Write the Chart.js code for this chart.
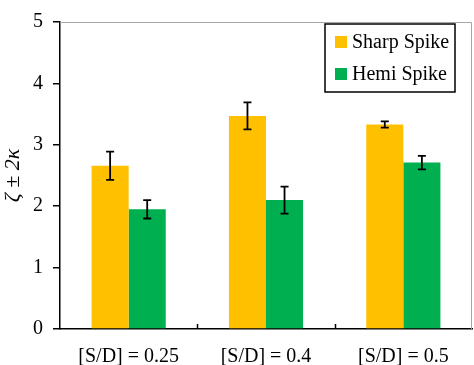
<!DOCTYPE html>
<html><head><meta charset="utf-8">
<script src="https://cdn.jsdelivr.net/npm/chart.js@4"></script>
<style>html,body{margin:0;padding:0;background:#fff}#wrap{width:474px;height:365px}</style>
</head><body><div id="wrap"><canvas id="c" width="474" height="365"></canvas></div>
<script>
const categories = ['[S/D] = 0.25', '[S/D] = 0.4', '[S/D] = 0.5'];
const seriesNames = ['Sharp Spike', 'Hemi Spike'];
const sharpValues = [2.66, 3.47, 3.33];
const sharpErrors = [0.23, 0.22, 0.05];
const hemiValues = [1.95, 2.10, 2.71];
const hemiErrors = [0.15, 0.22, 0.11];
const yTicks = [0, 1, 2, 3, 4, 5];
const yTitle = 'ζ ± 2κ';
const colors = ['#FFC000', '#00B050'];
const errors = [sharpErrors, hemiErrors];
const FONT = "'Liberation Serif', 'Times New Roman', serif";

const extras = {
  id: 'extras',
  afterDatasetsDraw(chart) {
    const ctx = chart.ctx, y = chart.scales.y, x = chart.scales.x, ca = chart.chartArea;
    ctx.save();
    // error bars
    ctx.strokeStyle = '#000'; ctx.lineWidth = 1.8;
    chart.data.datasets.forEach((ds, di) => {
      const meta = chart.getDatasetMeta(di);
      meta.data.forEach((bar, i) => {
        const v = ds.data[i], e = errors[di][i];
        const yt = y.getPixelForValue(v + e), yb = y.getPixelForValue(v - e);
        ctx.beginPath();
        ctx.moveTo(bar.x, yt); ctx.lineTo(bar.x, yb);
        ctx.moveTo(bar.x - 4, yt); ctx.lineTo(bar.x + 4, yt);
        ctx.moveTo(bar.x - 4, yb); ctx.lineTo(bar.x + 4, yb);
        ctx.stroke();
      });
    });
    // light frame top/right
    ctx.strokeStyle = '#a6a6a6'; ctx.lineWidth = 1;
    ctx.beginPath();
    ctx.moveTo(ca.left, ca.top + 0.5); ctx.lineTo(ca.right - 0.5, ca.top + 0.5); ctx.lineTo(ca.right - 0.5, ca.bottom);
    ctx.stroke();
    // inward x ticks at category boundaries
    ctx.strokeStyle = '#000'; ctx.lineWidth = 1.5;
    const step = x.getPixelForValue(1) - x.getPixelForValue(0);
    for (let i = 1; i < categories.length; i++) {
      const px = Math.round(x.getPixelForValue(i) - step / 2) + 0.5;
      ctx.beginPath(); ctx.moveTo(px, ca.bottom); ctx.lineTo(px, ca.bottom - 5); ctx.stroke();
    }
    // legend box
    const lx = 325, ly = 24, lw = 130, lh = 68;
    ctx.fillStyle = '#fff'; ctx.fillRect(lx, ly, lw, lh);
    ctx.strokeStyle = '#000'; ctx.lineWidth = 1.5; ctx.strokeRect(lx, ly, lw, lh);
    ctx.font = '20px ' + FONT; ctx.textBaseline = 'middle'; ctx.textAlign = 'left';
    chart.data.datasets.forEach((ds, di) => {
      const cy = ly + 18 + di * 32;
      ctx.fillStyle = ds.backgroundColor;
      ctx.fillRect(lx + 10, cy - 6, 12, 12);
      ctx.fillStyle = '#000';
      ctx.fillText(ds.label, lx + 27, cy + 1);
    });
    ctx.restore();
  }
};

new Chart(document.getElementById('c'), {
  type: 'bar',
  data: {
    labels: categories,
    datasets: [
      { label: seriesNames[0], data: sharpValues, backgroundColor: colors[0] },
      { label: seriesNames[1], data: hemiValues, backgroundColor: colors[1] }
    ]
  },
  options: {
    responsive: false, animation: false,
    layout: { padding: { top: 10, right: 2, left: 0, bottom: 0 } },
    datasets: { bar: { categoryPercentage: 0.54, barPercentage: 1.0 } },
    plugins: { legend: { display: false }, tooltip: { enabled: false } },
    scales: {
      x: {
        grid: { display: false },
        border: { color: '#000', width: 1.5 },
        ticks: { color: '#000', font: { family: FONT, size: 20 }, padding: 8, maxRotation: 0 },
        afterFit(s) { s.height = 36; }
      },
      y: {
        min: 0, max: 5,
        afterBuildTicks(s) { s.ticks = yTicks.map(v => ({ value: v })); },
        grid: { drawOnChartArea: false, color: '#000', tickLength: 7, lineWidth: 1.5 },
        border: { color: '#000', width: 1.5 },
        ticks: { color: '#000', font: { family: FONT, size: 20 }, padding: 10 },
        title: { display: true, text: yTitle, color: '#000', padding: 0,
                 font: { family: FONT, size: 22, style: 'italic' } },
        afterFit(s) { s.width = 60; }
      }
    }
  },
  plugins: [extras]
});
</script></body></html>
